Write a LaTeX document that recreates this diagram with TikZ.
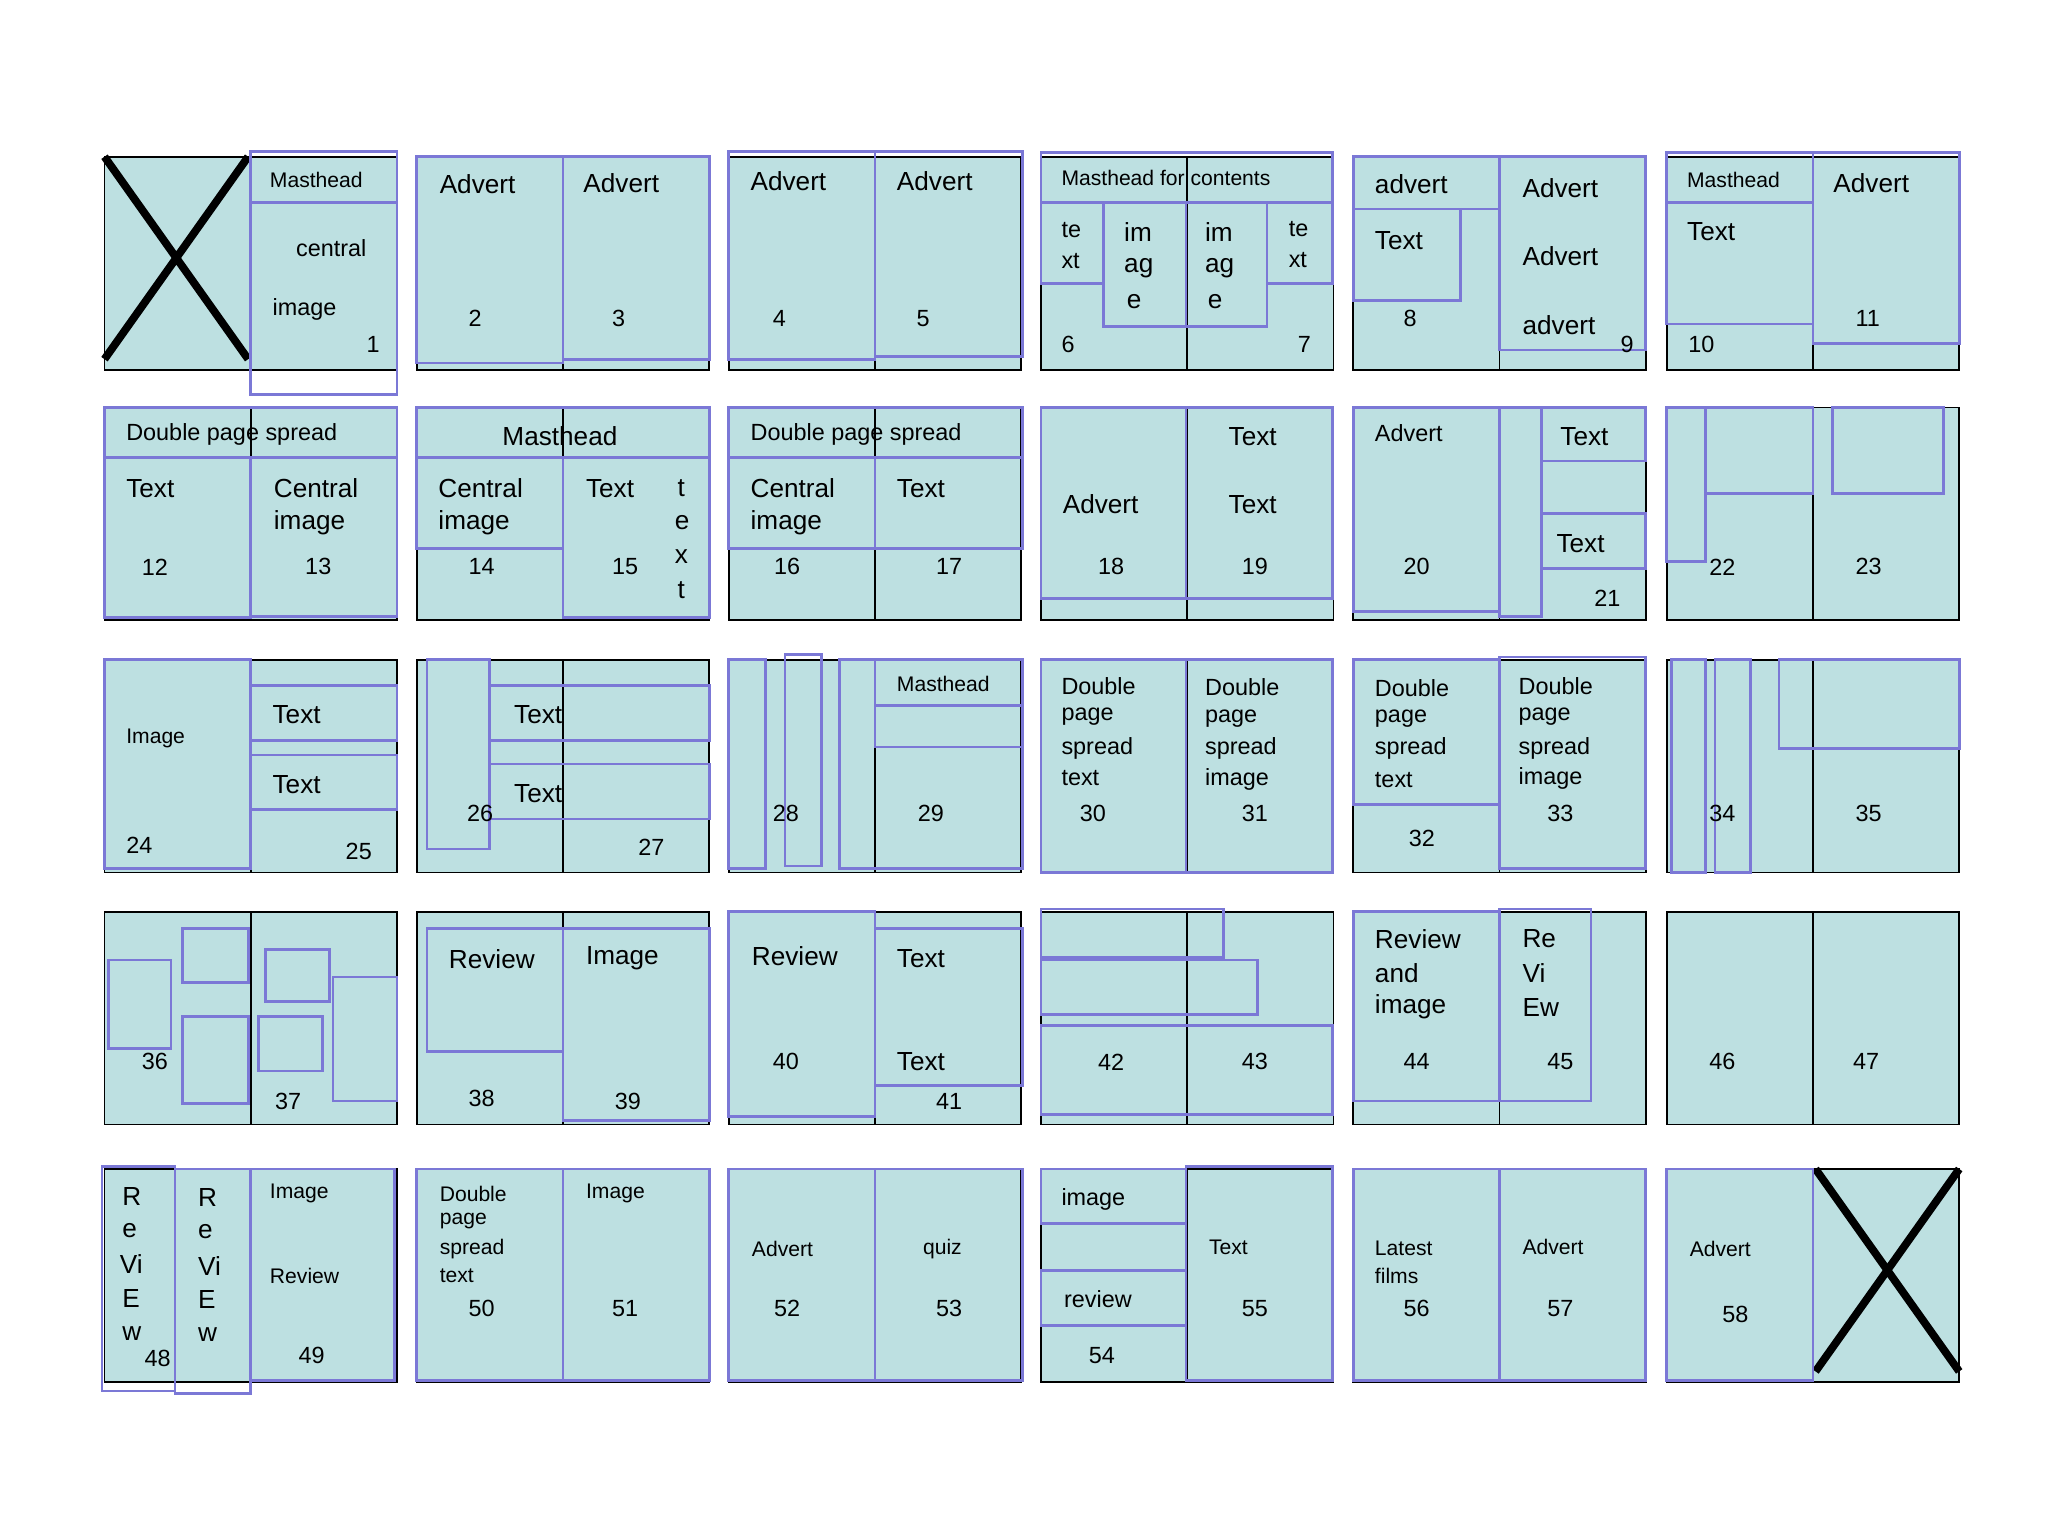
\documentclass[tikz,border=0pt]{standalone}
\usepackage{fontspec}
\setmainfont{Liberation Sans}
\definecolor{pagefill}{HTML}{BDE0E1}
\definecolor{boxc}{HTML}{7B78D6}
\tikzset{
 pg/.style={fill=pagefill,draw=black,line width=0.4pt},
 pgl/.style={draw=black,line width=0.4pt},
 pb/.style={draw=boxc,line width=0.6pt},
 tbig/.style={anchor=west,inner sep=0pt,font=\fontsize{5.7pt}{6pt}\selectfont},
 tmed/.style={anchor=west,inner sep=0pt,font=\fontsize{5.1pt}{6pt}\selectfont},
 tsml/.style={anchor=west,inner sep=0pt,font=\fontsize{4.6pt}{5pt}\selectfont},
 xcross/.style={draw=black,line width=1.7pt}
}
\newcommand\spr[2]{\draw[pg] (#1/100,-#2/100) rectangle ({(#1+224)/100},{-(#2+163)/100});
 \draw[pgl] ({(#1+112)/100},-#2/100) -- ++(0,-1.63);}
\newcommand\bx[4]{\draw[pb] (#1/100,-#2/100) rectangle (#3/100,-#4/100);}
\newcommand\tb[3]{\node[tbig] at (#1/100,-#2/100) {#3};}
\newcommand\tm[3]{\node[tmed] at (#1/100,-#2/100) {#3};}
\newcommand\ts[3]{\node[tsml] at (#1/100,-#2/100) {#3};}
\begin{document}
\begin{tikzpicture}
\fill[white] (0,0) rectangle (15.68,-11.76);
\useasboundingbox (0,0) rectangle (15.68,-11.76);
% spreads
\foreach \y in {120,312,505,698,895}{
 \foreach \x in {80,319,558,797,1036,1276}{ \spr{\x}{\y} }}
% crosses
\draw[xcross] (0.80,-1.20) -- (1.90,-2.75) (1.90,-1.20) -- (0.80,-2.75);
\draw[xcross] (13.90,-8.95) -- (15.00,-10.50) (15.00,-8.95) -- (13.90,-10.50);
% ---- row 1
\bx{192}{116}{304}{155}\bx{192}{116}{304}{302}
\ts{206}{138}{Masthead}\tm{226}{190}{central}\tm{208}{237}{image}\tm{280}{264}{1}
\bx{319}{120}{431}{278}\bx{431}{120}{543}{275}
\tb{336}{141}{Advert}\tb{446}{140}{Advert}\tm{358}{244}{2}\tm{468}{244}{3}
\bx{558}{116}{670}{275}\bx{670}{116}{783}{273}
\tb{574}{139}{Advert}\tb{686}{139}{Advert}\tm{591}{244}{4}\tm{701}{244}{5}
\bx{797}{117}{1020}{155}\ts{812}{136}{Masthead for contents}
\bx{797}{155}{845}{217}\bx{845}{155}{908}{250}\bx{908}{155}{970}{250}\bx{970}{155}{1020}{217}
\tm{812}{176}{te}\tm{812}{200}{xt}
\tb{860}{178}{im}\tb{860}{205}{ag}\tb{862}{231}{e}
\tb{922}{178}{im}\tb{922}{205}{ag}\tb{924}{231}{e}
\tm{986}{175}{te}\tm{986}{199}{xt}
\tm{812}{264}{6}\tm{993}{264}{7}
\bx{1036}{120}{1148}{160}\bx{1036}{160}{1118}{230}\bx{1148}{120}{1260}{268}
\tb{1052}{141}{advert}\tb{1052}{184}{Text}\tb{1165}{144}{Advert}\tb{1165}{196}{Advert}\tb{1165}{249}{advert}
\tm{1074}{244}{8}\tm{1240}{264}{9}
\bx{1276}{117}{1388}{155}\bx{1276}{155}{1388}{248}\bx{1388}{117}{1500}{263}
\ts{1291}{138}{Masthead}\tb{1291}{177}{Text}\tb{1403}{140}{Advert}
\tm{1292}{264}{10}\tm{1420}{244}{11}
% ---- row 2
\bx{80}{312}{304}{350}\bx{80}{350}{192}{473}\bx{192}{350}{304}{472}
\tm{96}{333}{Double page spread}\tb{96}{374}{Text}\tb{209}{374}{Central}\tb{209}{400}{image}
\tm{108}{434}{12}\tm{233}{434}{13}
\bx{319}{312}{543}{350}\bx{319}{350}{431}{420}\bx{431}{350}{543}{473}
\tb{384}{334}{Masthead}\tb{335}{374}{Central}\tb{335}{400}{image}\tb{448}{374}{Text}
\tb{518}{374}{t}\tb{516}{400}{e}\tb{516}{426}{x}\tb{518}{452}{t}
\tm{358}{434}{14}\tm{468}{434}{15}
\bx{558}{312}{783}{350}\bx{558}{350}{670}{420}\bx{670}{350}{783}{420}
\tm{574}{333}{Double page spread}\tb{574}{374}{Central}\tb{574}{400}{image}\tb{686}{374}{Text}
\tm{592}{434}{16}\tm{716}{434}{17}
\bx{797}{312}{908}{458}\bx{908}{312}{1020}{458}
\tb{813}{386}{Advert}\tb{940}{334}{Text}\tb{940}{386}{Text}\tm{840}{434}{18}\tm{950}{434}{19}
\bx{1036}{312}{1148}{468}\bx{1148}{312}{1180}{472}\bx{1180}{312}{1260}{353}\bx{1180}{393}{1260}{435}
\tm{1052}{332}{Advert}\tb{1194}{334}{Text}\tb{1191}{416}{Text}\tm{1074}{434}{20}\tm{1220}{458}{21}
\bx{1276}{312}{1306}{430}\bx{1306}{312}{1388}{378}\bx{1403}{312}{1488}{378}
\tm{1308}{434}{22}\tm{1420}{434}{23}
% ---- row 3
\bx{80}{505}{192}{665}\bx{192}{525}{304}{567}\bx{192}{578}{304}{620}
\ts{96}{565}{Image}\tb{208}{547}{Text}\tb{208}{601}{Text}\tm{96}{647}{24}\tm{264}{652}{25}
\bx{327}{505}{375}{650}\bx{375}{525}{543}{567}\bx{375}{585}{543}{627}
\tb{393}{547}{Text}\tb{393}{608}{Text}\tm{357}{623}{26}\tm{488}{649}{27}
\bx{558}{505}{586}{665}\bx{601}{501}{629}{663}\bx{643}{505}{783}{665}\bx{670}{505}{783}{540}\bx{670}{540}{783}{572}
\ts{686}{524}{Masthead}\tm{591}{623}{28}\tm{702}{623}{29}
\bx{797}{505}{908}{668}\bx{908}{505}{1020}{668}
\tm{812}{525}{Double}\tm{812}{549}{page}\tm{812}{573}{spread}\tm{812}{596}{text}
\tm{922}{526}{Double}\tm{922}{550}{page}\tm{922}{573}{spread}\tm{922}{597}{image}
\tm{826}{623}{30}\tm{950}{623}{31}
\bx{1036}{505}{1148}{616}\bx{1148}{503}{1260}{665}
\tm{1052}{527}{Double}\tm{1052}{550}{page}\tm{1052}{573}{spread}\tm{1052}{597}{text}
\tm{1162}{525}{Double}\tm{1162}{549}{page}\tm{1162}{573}{spread}\tm{1162}{596}{image}
\tm{1078}{642}{32}\tm{1184}{623}{33}
\bx{1280}{505}{1306}{668}\bx{1313}{505}{1340}{668}\bx{1362}{505}{1500}{573}
\tm{1308}{623}{34}\tm{1420}{623}{35}
% ---- row 4
\bx{83}{735}{131}{803}\bx{140}{711}{190}{752}\bx{140}{778}{190}{845}\bx{203}{727}{252}{767}\bx{198}{778}{247}{820}\bx{255}{748}{304}{843}
\tm{108}{813}{36}\tm{210}{843}{37}
\bx{327}{711}{431}{805}\bx{431}{711}{543}{858}
\tb{343}{734}{Review}\tb{448}{734}{Image}\tm{358}{841}{38}\tm{470}{843}{39}
\bx{558}{698}{670}{855}\bx{670}{711}{783}{831}
\tb{575}{732}{Review}\tb{686}{734}{Text}\tb{686}{813}{Text}\tm{591}{813}{40}\tm{716}{843}{41}
\bx{797}{696}{937}{733}\bx{797}{735}{963}{777}\bx{797}{785}{1020}{853}
\tm{840}{813}{42}\tm{950}{813}{43}
\bx{1036}{698}{1148}{843}\bx{1148}{696}{1218}{843}
\tb{1052}{719}{Review}\tb{1052}{745}{and}\tb{1052}{771}{image}
\tb{1165}{719}{Re}\tb{1165}{745}{Vi}\tb{1165}{771}{Ew}
\tm{1074}{813}{44}\tm{1184}{813}{45}
\tm{1308}{813}{46}\tm{1418}{813}{47}
% ---- row 5
\bx{78}{893}{134}{1065}\bx{134}{895}{192}{1067}\bx{192}{895}{302}{1057}
\tb{93}{916}{R}\tb{93}{942}{e}\tb{91}{968}{Vi}\tb{93}{994}{E}\tb{93}{1021}{w}
\tb{151}{917}{R}\tb{151}{943}{e}\tb{151}{969}{Vi}\tb{151}{995}{E}\tb{151}{1022}{w}
\ts{206}{914}{Image}\ts{206}{977}{Review}\tm{110}{1040}{48}\tm{228}{1038}{49}
\bx{319}{895}{431}{1057}\bx{431}{895}{543}{1057}
\ts{336}{914}{Double}\ts{336}{935}{page}\ts{336}{956}{spread}\ts{336}{977}{text}
\ts{448}{914}{Image}\tm{358}{1002}{50}\tm{468}{1002}{51}
\bx{558}{895}{670}{1057}\bx{670}{895}{783}{1057}
\ts{575}{956}{Advert}\ts{706}{956}{quiz}\tm{592}{1002}{52}\tm{716}{1002}{53}
\bx{797}{895}{908}{937}\bx{797}{973}{908}{1015}\bx{908}{893}{1020}{1057}
\tm{812}{918}{image}\tm{814}{995}{review}\ts{925}{955}{Text}\tm{833}{1038}{54}\tm{950}{1002}{55}
\bx{1036}{895}{1148}{1057}\bx{1148}{895}{1260}{1057}
\ts{1052}{956}{Latest}\ts{1052}{977}{films}\ts{1165}{955}{Advert}\tm{1074}{1002}{56}\tm{1184}{1002}{57}
\bx{1276}{895}{1388}{1057}
\ts{1293}{956}{Advert}\tm{1318}{1006}{58}
\end{tikzpicture}
\end{document}
